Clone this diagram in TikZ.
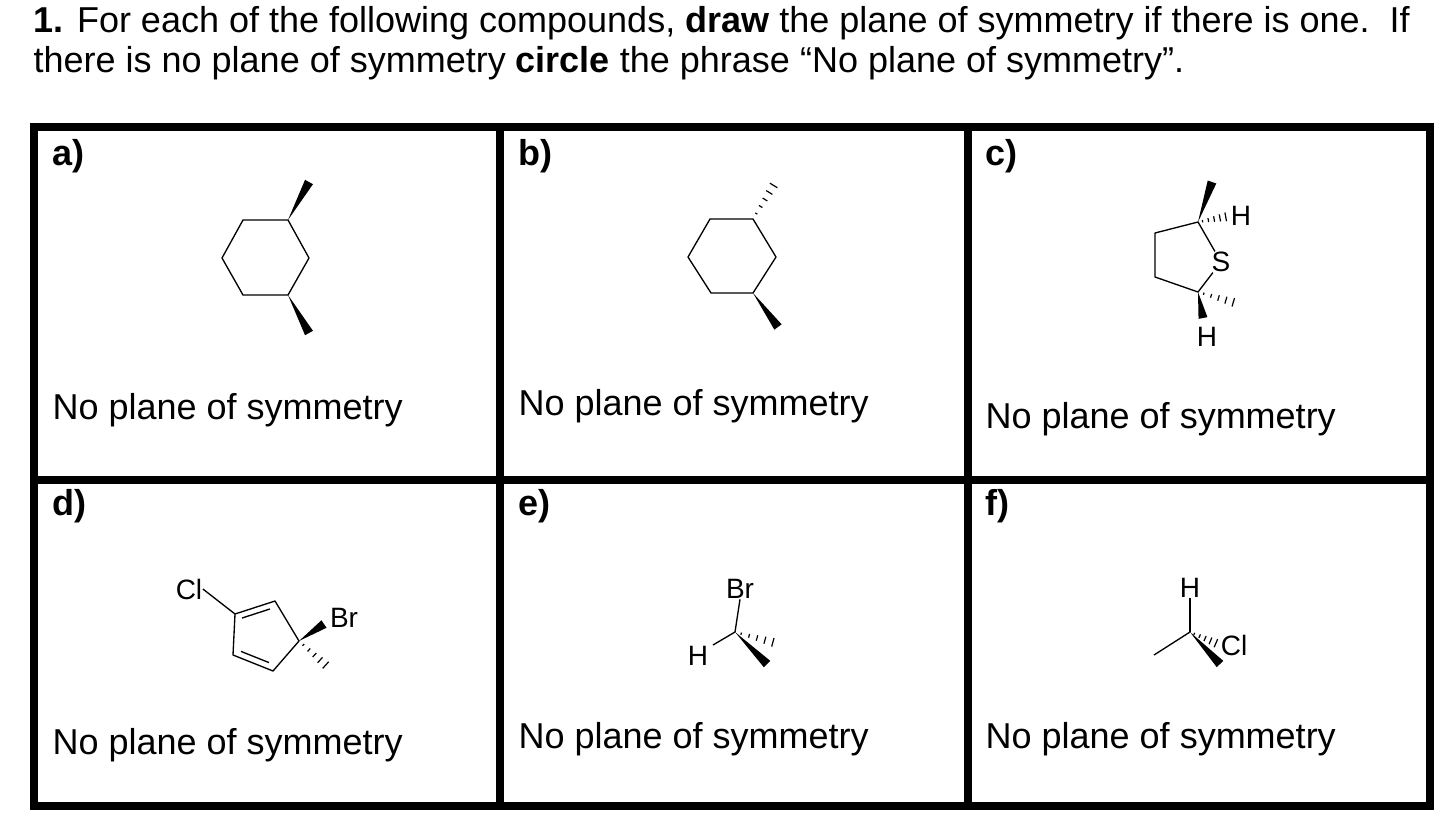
\documentclass[tikz,border=0pt]{standalone}
\usepackage{fontspec}
\setmainfont{Liberation Sans}
\usetikzlibrary{calc}
\newcommand{\wdg}[2]{\fill (#1) -- ($(#2)!3.4pt!90:(#1)$) -- ($(#2)!3.4pt!-90:(#1)$) -- cycle;}
\newcommand{\hsh}[2]{\foreach \t in {0.14,0.32,0.5,0.68,0.86}{\path (#1) -- (#2) coordinate[pos=\t] (hp);
 \pgfmathsetmacro{\hw}{0.4+\t*3.4}
 \draw[line width=0.9pt] ($(hp)!\hw pt!90:(#2)$) -- ($(hp)!\hw pt!-90:(#2)$);}}
\begin{document}
\begin{tikzpicture}[x=0.75pt,y=-0.75pt,line width=1pt,
  txt/.style={font=\fontsize{27}{32}\selectfont,inner sep=0pt,anchor=base west},
  lab/.style={font=\fontsize{27}{32}\selectfont\bfseries,inner sep=0pt,anchor=base west},
  atom/.style={font=\fontsize{21}{24}\selectfont,inner sep=0pt},
  grid/.style={line width=6pt}]
\useasboundingbox[fill=white] (0,0) rectangle (1453,829);
\node[txt] (t1) at (33,32) {\textbf{1.} For each of the following compounds, \textbf{draw} the plane of symmetry if there is one.\ \ If};
\node[txt] (t2) at (33,72) {there is no plane of symmetry \textbf{circle} the phrase “No plane of symmetry”.};
\draw[grid] (34,127) rectangle (1430,806);
\draw[grid] (500,127) -- (500,806);
\draw[grid] (968,127) -- (968,806);
\draw[grid] (34,480) -- (1430,480);
\node[lab] (la) at (52,165) {a)};
\node[lab] (lb) at (518,165) {b)};
\node[lab] (lc) at (985,165) {c)};
\node[lab] (ld) at (52,515) {d)};
\node[lab] (le) at (518,515) {e)};
\node[lab] (lf) at (985,515) {f)};
\node[txt] (na) at (52,419) {No plane of symmetry};
\node[txt] (nb) at (518,415) {No plane of symmetry};
\node[txt] (nc) at (985,428) {No plane of symmetry};
\node[txt] (nd) at (52,754) {No plane of symmetry};
\node[txt] (ne) at (518,748) {No plane of symmetry};
\node[txt] (nf) at (985,748) {No plane of symmetry};
% a
\coordinate (a1) at (288,220); \coordinate (a2) at (243,220); \coordinate (a3) at (222,258);
\coordinate (a4) at (243,295); \coordinate (a5) at (288,295); \coordinate (a6) at (309,258);
\coordinate (am1) at (309,182); \coordinate (am2) at (309,333);
\draw[line join=round] (a1)--(a2)--(a3)--(a4)--(a5)--(a6)--cycle;
\wdg{a1}{am1} \wdg{a5}{am2}
% b
\coordinate (b1) at (753,219); \coordinate (b2) at (710,219); \coordinate (b3) at (688,257);
\coordinate (b4) at (711,293); \coordinate (b5) at (753,293); \coordinate (b6) at (776,257);
\coordinate (bm1) at (777,180); \coordinate (bm2) at (778,327);
\draw[line join=round] (b1)--(b2)--(b3)--(b4)--(b5)--(b6)--cycle;
\hsh{b1}{bm1} \wdg{b5}{bm2}
% c
\coordinate (c2) at (1198,222); \coordinate (c3) at (1155,233); \coordinate (c4) at (1155,277);
\coordinate (c5) at (1198,292); \node[atom] (cS) at (1221,262) {S};
\coordinate (cm1) at (1212,182); \coordinate (cm2) at (1239,304);
\node[atom] (cH1) at (1241,216) {H}; \node[atom] (cH2) at (1207,337) {H};
\coordinate (ch2) at (1203,318);
\draw[line join=round] (cS) -- (c2) -- (c3) -- (c4) -- (c5) -- (cS);
\wdg{c2}{cm1} \hsh{c2}{cH1.west} \hsh{c5}{cm2} \wdg{c5}{ch2}
% d
\coordinate (d1) at (235,614); \coordinate (d2) at (275,601); \coordinate (d4) at (299,641);
\coordinate (d5) at (273,671); \coordinate (d6) at (233,655);
\node[atom] (dCl) at (189,589) {Cl}; \node[atom] (dBr) at (344,618) {Br};
\coordinate (dm) at (330,669); \coordinate (dbr) at (324,624);
\draw[line join=round] (d1)--(d2)--(d4)--(d5)--(d6)--cycle;
\draw ($(d1)!0.15!(d2)+(1,6)$) -- ($(d1)!0.85!(d2)+(1,6)$);
\draw ($(d6)!0.15!(d5)+(2,-6)$) -- ($(d6)!0.85!(d5)+(2,-6)$);
\draw (dCl.east) -- (d1);
\wdg{d4}{dbr} \hsh{d4}{dm}
% e
\coordinate (eC) at (735,632); \node[atom] (eBr) at (740,589) {Br}; \node[atom] (eH) at (698,656) {H};
\coordinate (em1) at (779,644); \coordinate (em2) at (767,664);
\draw (eC) -- (eBr.south); \draw (eC) -- (713,645);
\hsh{eC}{em1} \wdg{eC}{em2}
% f
\coordinate (fC) at (1190,632); \node[atom] (fH) at (1190,588) {H}; \node[atom] (fCl) at (1234,645) {Cl};
\coordinate (fm1) at (1154,655); \coordinate (fm2) at (1220,664);
\draw (fC) -- (fH.south); \draw (fC) -- (fm1);
\hsh{fC}{fCl.west} \wdg{fC}{fm2}
\end{tikzpicture}
\end{document}
